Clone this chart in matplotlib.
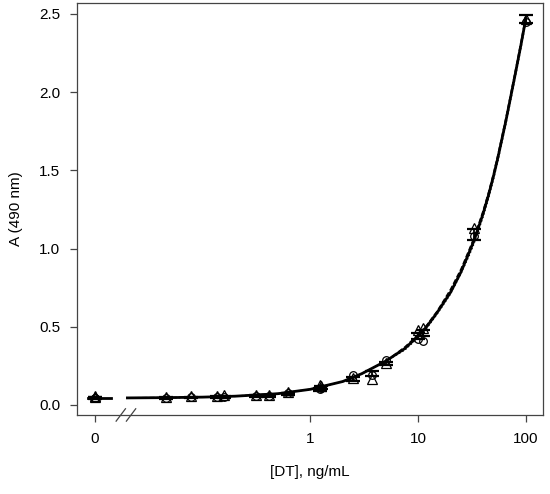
import matplotlib
matplotlib.use("Agg")
import matplotlib.pyplot as plt

plt.rcParams['font.family'] = ['Liberation Sans', 'DejaVu Sans']

# dose 0 is drawn at this position on the log axis
ZERO_POS = 0.01

# 3-fold dilution series
dose_a = [0, 0.0457, 0.137, 0.412, 1.23, 3.70, 11.1, 33.3, 100]
mean_a = [0.048, 0.046, 0.050, 0.058, 0.100, 0.200, 0.460, 1.09, 2.47]
sd_a = [0.005, 0.005, 0.005, 0.006, 0.010, 0.018, 0.020, 0.035, 0.025]
tri_a = [0.055, 0.052, 0.058, 0.065, 0.125, 0.165, 0.495, 1.13, 2.47]
circ_a = [0.045, 0.045, 0.050, 0.055, 0.100, 0.190, 0.410, 1.08, 2.45]

# 2-fold dilution series
dose_b = [0, 0.078, 0.156, 0.3125, 0.625, 1.25, 2.5, 5.0, 10.0]
mean_b = [0.045, 0.048, 0.050, 0.057, 0.072, 0.110, 0.165, 0.265, 0.44]
sd_b = [0.004, 0.005, 0.005, 0.005, 0.006, 0.010, 0.012, 0.012, 0.020]
tri_b = [0.052, 0.058, 0.062, 0.066, 0.085, 0.120, 0.175, 0.270, 0.48]
circ_b = [0.045, 0.048, 0.052, 0.057, 0.075, 0.110, 0.190, 0.290, 0.42]

# fitted curves
curve_x = [0.02, 0.05, 0.1, 0.2, 0.5, 1, 2, 3, 5, 7.5, 10, 12, 15, 20, 25, 30, 33,
           40, 45, 50, 55, 60, 65, 70, 80, 90, 100]
curve_fit = [0.045, 0.047, 0.05, 0.056, 0.072, 0.10, 0.15, 0.20, 0.28, 0.36, 0.44, 0.50,
             0.59, 0.72, 0.85, 0.98, 1.05, 1.22, 1.34, 1.46, 1.58, 1.70, 1.81, 1.92,
             2.12, 2.30, 2.47]
curve_a = [0.046, 0.048, 0.051, 0.057, 0.073, 0.10, 0.15, 0.20, 0.28, 0.37, 0.45, 0.51,
           0.60, 0.74, 0.87, 1.00, 1.07, 1.24, 1.36, 1.48, 1.60, 1.72, 1.83, 1.94,
           2.14, 2.32, 2.49]
curve_b = [0.044, 0.046, 0.049, 0.055, 0.071, 0.10, 0.15, 0.20, 0.28, 0.35, 0.43, 0.49,
           0.58, 0.71, 0.84, 0.96, 1.03, 1.20, 1.32, 1.44, 1.56, 1.68, 1.79, 1.90,
           2.10, 2.28, 2.45]

xticks = [ZERO_POS, 1, 10, 100]
xtick_labels = ['0', '1', '10', '100']
yticks = [0.0, 0.5, 1.0, 1.5, 2.0, 2.5]


def pos(d):
    return [ZERO_POS if v == 0 else v for v in d]


fig = plt.figure(figsize=(5.5, 4.94), dpi=100)
ax = fig.add_axes([0.14, 0.16, 0.847, 0.834])
ax.set_xscale('log')

# curves
ax.plot(curve_x, curve_fit, color='black', lw=2.0, solid_joinstyle='round')
ax.plot(curve_x, curve_a, color='black', lw=1.0, ls='--')
ax.plot(curve_x, curve_b, color='black', lw=1.0, ls=':')
ax.plot([ZERO_POS * 0.86, ZERO_POS * 1.4], [curve_fit[0]] * 2, color='black', lw=2.0)

for d, m, s, tri, circ in [(dose_a, mean_a, sd_a, tri_a, circ_a),
                           (dose_b, mean_b, sd_b, tri_b, circ_b)]:
    x = pos(d)
    ax.errorbar(x, m, yerr=s, fmt='none', ecolor='black', elinewidth=1.3,
                capsize=5, capthick=1.6)
    ax.plot(x, tri, ls='none', marker='^', ms=6.5, mfc='none', mec='black', mew=0.9)
    ax.plot(x, circ, ls='none', marker='o', ms=5.5, mfc='none', mec='black', mew=0.9)

ax.set_xlim(10 ** -2.167, 10 ** 2.158)
ax.set_ylim(-0.064, 2.57)
ax.set_xticks(xticks)
ax.set_xticklabels(xtick_labels)
ax.xaxis.set_minor_locator(matplotlib.ticker.NullLocator())
ax.set_yticks(yticks)
ax.set_yticklabels(['{:.1f}'.format(v) for v in yticks])

for sp in ax.spines.values():
    sp.set_color('#444444')
    sp.set_linewidth(0.9)
ax.tick_params(axis='both', direction='out', length=5, width=0.9, color='#444444',
               labelsize=11, pad=7)

# axis break marks
for bx in [0.094, 0.116]:
    ax.plot([bx - 0.010, bx + 0.010], [-0.015, 0.015], transform=ax.transAxes,
            color='#444444', lw=0.9, clip_on=False)

ax.set_xlabel('[DT], ng/mL', fontsize=11, labelpad=14)
ax.set_ylabel('A (490 nm)', fontsize=11, labelpad=12)

fig.savefig('out.png', dpi=100)
